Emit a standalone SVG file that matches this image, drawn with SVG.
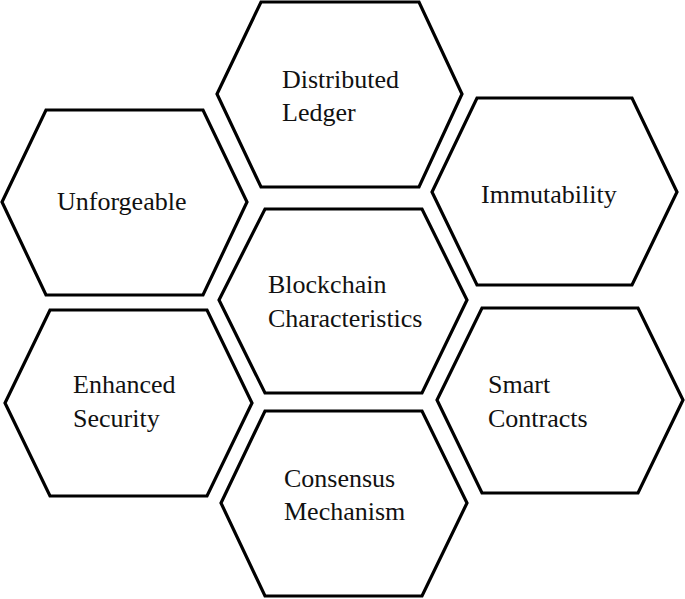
<svg xmlns="http://www.w3.org/2000/svg" width="685" height="599" viewBox="0 0 685 599">
<style>
.hex{fill:#fff;stroke:#000;stroke-width:3.2;stroke-linejoin:miter}
text{font-family:'Liberation Serif','Times New Roman',serif;font-size:26px;fill:#111}
</style>
<rect width="685" height="599" fill="#fff"/>
<g id="distributed-ledger">
<polygon class="hex" points="261,2 419,2 462,94 419,187 261,187 217,94"/>
<text x="282" y="88">Distributed</text>
<text x="282" y="121">Ledger</text>
</g>
<g id="unforgeable">
<polygon class="hex" points="46,110 203,110 247,202 203,295 46,295 2,202"/>
<text x="57" y="210">Unforgeable</text>
</g>
<g id="immutability">
<polygon class="hex" points="477,98 632,98 677,192 632,285 477,285 432,192"/>
<text x="481" y="203">Immutability</text>
</g>
<g id="blockchain-characteristics">
<polygon class="hex" points="265,209 422,209 467,300 422,393 265,393 219,300"/>
<text x="268" y="293">Blockchain</text>
<text x="268" y="327">Characteristics</text>
</g>
<g id="enhanced-security">
<polygon class="hex" points="50,310 207,310 252,403 207,496 50,496 5,403"/>
<text x="73" y="393">Enhanced</text>
<text x="73" y="427">Security</text>
</g>
<g id="smart-contracts">
<polygon class="hex" points="482,308 638,308 683,400 638,493 482,493 437,400"/>
<text x="488" y="393">Smart</text>
<text x="488" y="427">Contracts</text>
</g>
<g id="consensus-mechanism">
<polygon class="hex" points="265,411 422,411 467,503 422,596 265,596 221,503"/>
<text x="284" y="487">Consensus</text>
<text x="284" y="520">Mechanism</text>
</g>
<g id="connectors"></g>
</svg>
